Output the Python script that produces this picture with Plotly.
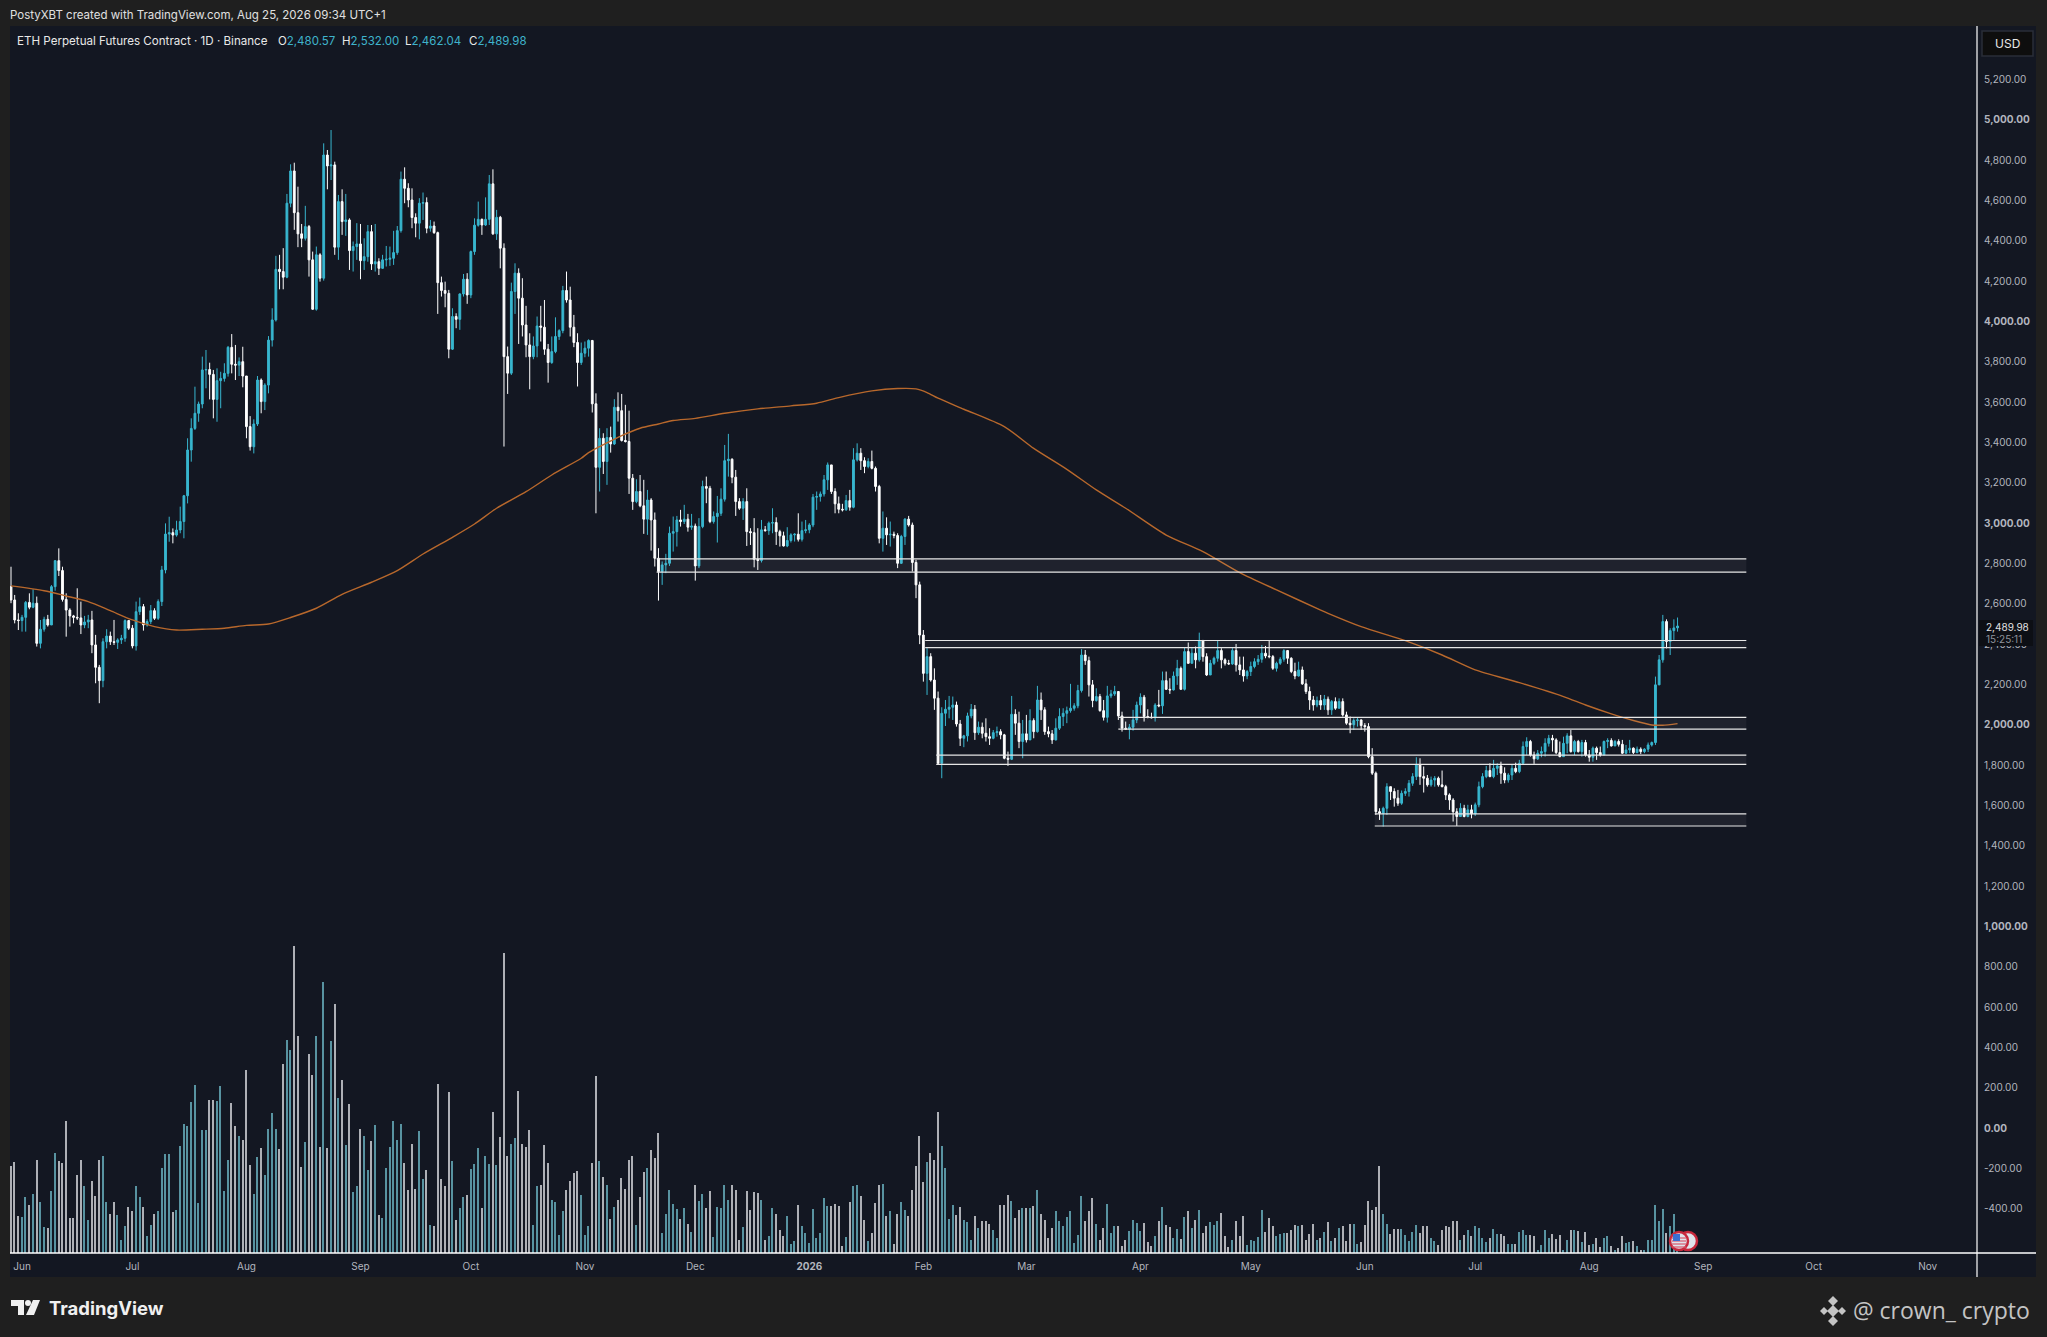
import pandas as pd
import plotly.graph_objects as go

first_open = 2685
start_day = "2025-05-29"

closes = [
    2619,2520,2517,2533,2607,2583,2603,2404,2474,2523,
    2495,2685,2814,2765,2622,2569,2540,2533,2530,2495,
    2510,2520,2396,2285,2219,2412,2440,2412,2409,2421,
    2429,2517,2479,2391,2561,2586,2495,2512,2566,2528,
    2611,2768,2946,2953,2941,2966,3008,3136,3363,3470,
    3545,3591,3760,3762,3738,3614,3707,3718,3743,3872,
    3788,3784,3801,3730,3479,3379,3492,3710,3603,3685,
    3908,4008,4259,4248,4220,4587,4747,4540,4435,4413,
    4471,4306,4061,4331,4215,4826,4772,4777,4369,4595,
    4496,4504,4352,4372,4385,4302,4322,4446,4286,4297,
    4264,4306,4309,4314,4342,4451,4706,4661,4603,4516,
    4488,4587,4590,4463,4474,4441,4193,4154,4140,3863,
    4025,4011,4137,4210,4132,4347,4478,4507,4479,4507,
    4683,4435,4517,4364,3826,3744,4149,4240,4116,3983,
    3884,3826,3879,3978,3972,3863,3797,3851,3926,3955,
    4154,4107,3972,3896,3797,3843,3868,3906,3592,3277,
    3421,3306,3425,3393,3575,3558,3410,3405,3223,3107,
    3157,3086,3020,3115,3016,2826,2760,2793,2801,2950,
    2958,3016,3008,3020,2980,2986,2788,2983,3182,3173,
    3008,3033,3049,3119,3310,3317,3228,3107,3074,3107,
    2958,2953,2821,2815,2967,2963,3000,3003,2958,2937,
    2887,2914,2942,2945,2920,2963,2967,2991,3129,3132,
    3145,3215,3289,3157,3096,3069,3066,3112,3079,3314,
    3347,3310,3281,3306,3272,3182,2925,2975,2942,2945,
    2939,2801,2934,3020,2991,2805,2694,2445,2255,2338,
    2222,2132,1809,2057,2077,2087,2098,2004,1933,1945,
    2044,2077,1961,1988,1958,1941,1933,1961,1966,1950,
    1834,1829,2052,2008,1917,1955,1925,2021,1966,2123,
    2074,1966,1955,1925,1983,2041,2057,2070,2082,2094,
    2170,2346,2318,2198,2120,2140,2070,2037,2143,2153,
    2165,2044,1983,1978,1988,2024,2098,2137,2041,2037,
    2035,2098,2094,2219,2176,2173,2242,2280,2176,2363,
    2305,2355,2322,2418,2338,2247,2305,2330,2368,2322,
    2305,2302,2368,2297,2272,2242,2264,2289,2313,2325,
    2355,2341,2338,2280,2305,2325,2368,2330,2264,2242,
    2272,2203,2165,2123,2098,2120,2098,2127,2074,2115,
    2082,2115,2049,2008,2000,2021,2024,1996,1991,1842,
    1760,1569,1561,1586,1693,1669,1636,1611,1660,1669,
    1710,1743,1801,1743,1735,1702,1726,1735,1702,1693,
    1652,1627,1569,1545,1586,1545,1578,1558,1603,1693,
    1743,1773,1743,1784,1796,1760,1726,1751,1784,1768,
    1809,1892,1917,1850,1831,1859,1867,1908,1933,1925,
    1862,1842,1908,1945,1867,1917,1867,1912,1850,1839,
    1884,1862,1850,1917,1922,1895,1917,1903,1859,1875,
    1884,1862,1879,1867,1879,1900,1912,2198,2322,2512,
    2413,2467,2480.57,2489.98,
]

highs = [
    2784,2644,2553,2545,2614,2652,2672,2636,2520,2536,
    2545,2693,2817,2875,2784,2652,2578,2545,2677,2611,
    2540,2545,2565,2446,2297,2429,2474,2462,2520,2429,
    2446,2523,2520,2495,2611,2631,2599,2523,2594,2578,
    2622,2788,2999,3032,2974,3012,3082,3140,3421,3520,
    3677,3603,3826,3859,3796,3760,3768,3751,3793,3879,
    3938,3884,3822,3875,3718,3531,3515,3730,3718,3694,
    3928,4066,4326,4331,4364,4633,4780,4788,4669,4484,
    4574,4479,4347,4372,4339,4884,4851,4950,4793,4628,
    4656,4633,4512,4397,4488,4484,4413,4479,4479,4484,
    4314,4331,4375,4372,4450,4474,4744,4765,4686,4661,
    4537,4612,4640,4616,4504,4496,4446,4223,4198,4157,
    4066,4041,4140,4236,4240,4352,4512,4595,4511,4616,
    4727,4755,4554,4524,4388,3876,4193,4289,4264,4215,
    4078,3942,3926,4025,4078,4107,3889,3926,4021,3962,
    4177,4248,4173,4033,3942,3896,3901,3912,3909,3644,
    3471,3446,3471,3479,3615,3649,3641,3587,3558,3244,
    3218,3239,3215,3165,3124,3053,2876,2810,2848,2983,
    3033,3036,3066,3091,3046,3046,2998,3025,3211,3231,
    3185,3058,3135,3173,3388,3443,3322,3264,3124,3124,
    3173,2975,3025,2975,3016,2986,3008,3074,3029,2967,
    2958,2980,2950,2950,3049,3008,3016,3000,3145,3157,
    3157,3239,3301,3289,3173,3132,3096,3140,3165,3372,
    3396,3372,3327,3322,3360,3281,3190,3058,3029,3008,
    2958,2950,2942,3025,3036,3003,2818,2710,2470,2380,
    2355,2280,2165,2087,2123,2143,2140,2115,2024,1950,
    2060,2103,2098,2016,2011,2032,1983,1974,1991,1978,
    1955,1867,2143,2077,2065,2024,2049,2077,2032,2193,
    2160,2087,1991,1974,2032,2082,2082,2090,2203,2107,
    2198,2375,2371,2338,2222,2181,2153,2123,2193,2173,
    2193,2165,2065,2016,2004,2074,2115,2156,2148,2077,
    2060,2107,2173,2264,2264,2231,2264,2322,2289,2384,
    2408,2380,2388,2457,2421,2355,2322,2338,2418,2380,
    2330,2322,2380,2401,2338,2338,2272,2313,2330,2346,
    2396,2391,2418,2346,2313,2335,2375,2371,2335,2308,
    2313,2289,2226,2189,2143,2140,2148,2148,2140,2123,
    2136,2131,2131,2065,2041,2032,2037,2027,2008,2008,
    1884,1768,1586,1594,1710,1693,1685,1677,1674,1685,
    1726,1760,1839,1834,1793,1751,1743,1746,1743,1773,
    1702,1660,1636,1586,1611,1603,1603,1603,1614,1718,
    1760,1796,1809,1826,1809,1817,1789,1760,1801,1812,
    1826,1917,1938,1925,1867,1875,1892,1933,1950,1950,
    1933,1917,1941,1958,1974,1925,1925,1925,1925,1875,
    1892,1892,1892,1922,1933,1933,1925,1928,1925,1900,
    1925,1888,1892,1888,1884,1912,1917,2239,2346,2545,
    2523,2479,2523,2532,
]

lows = [
    2603,2503,2470,2462,2462,2573,2578,2388,2379,2462,
    2487,2495,2665,2738,2611,2437,2487,2503,2520,2450,
    2479,2479,2355,2206,2107,2186,2379,2396,2396,2376,
    2401,2412,2470,2379,2368,2545,2467,2487,2500,2520,
    2520,2589,2751,2908,2900,2933,2950,2925,3098,3305,
    3462,3503,3570,3669,3614,3520,3503,3570,3702,3727,
    3743,3710,3730,3674,3421,3360,3346,3482,3545,3561,
    3644,3876,4000,4160,4160,4215,4567,4455,4369,4369,
    4402,4223,4058,4054,4198,4203,4656,4702,4331,4306,
    4430,4425,4256,4248,4306,4210,4256,4297,4256,4248,
    4231,4261,4273,4276,4281,4331,4441,4587,4567,4463,
    4418,4408,4504,4438,4446,4435,4038,4124,4071,3818,
    3859,3967,3959,4124,4088,4116,4331,4471,4430,4474,
    4479,4430,4405,4264,3380,3641,3735,4038,3889,3926,
    3823,3664,3813,3823,3901,3835,3697,3790,3843,3909,
    3942,4094,3926,3873,3678,3785,3823,3826,3549,3049,
    3157,3244,3190,3350,3388,3504,3405,3400,3145,3066,
    3099,3079,2947,2942,2864,2785,2616,2694,2752,2788,
    2859,2884,2983,2996,2958,2967,2715,2777,2975,3099,
    3000,2998,2904,3036,3107,3231,3198,3036,3066,3016,
    2887,2892,2781,2768,2805,2958,2942,2950,2892,2884,
    2884,2881,2904,2909,2909,2909,2950,2950,2980,3066,
    3107,3132,3165,3145,3049,3049,3058,3062,3062,3074,
    3306,3264,3248,3272,3267,3157,2900,2859,2892,2884,
    2925,2777,2798,2892,2983,2760,2628,2400,2214,2148,
    2214,2074,1801,1735,1994,2032,2024,1991,1895,1889,
    1917,2032,1925,1950,1933,1917,1900,1928,1941,1928,
    1829,1796,1825,1950,1884,1834,1912,1928,1933,1961,
    2024,1950,1938,1905,1922,1974,1994,2008,2060,2070,
    2082,2160,2297,2140,2087,2115,2065,2021,2011,2132,
    2143,2024,1966,1974,1928,1971,2008,2057,2016,2032,
    2032,2016,2087,2054,2173,2153,2170,2198,2173,2170,
    2302,2305,2280,2313,2313,2242,2247,2297,2313,2280,
    2294,2297,2297,2264,2247,2214,2226,2242,2280,2297,
    2308,2330,2330,2272,2264,2297,2313,2302,2256,2226,
    2239,2198,2153,2074,2070,2087,2074,2074,2049,2049,
    2074,2090,2041,2000,1958,1974,1991,1974,1966,1834,
    1751,1553,1528,1495,1553,1627,1594,1598,1603,1647,
    1644,1697,1726,1702,1664,1693,1693,1693,1693,1690,
    1627,1578,1520,1498,1545,1541,1541,1536,1548,1591,
    1685,1735,1740,1735,1751,1707,1710,1713,1726,1760,
    1760,1801,1850,1842,1806,1826,1839,1842,1892,1867,
    1855,1839,1842,1859,1862,1850,1862,1842,1842,1817,
    1817,1826,1842,1855,1884,1892,1900,1892,1855,1855,
    1859,1855,1859,1855,1859,1865,1892,1900,2209,2308,
    2379,2346,2421,2462.04,
]

# relative volume
volumes = [
    87,91,37,36,56,48,59,93,51,26,
    25,62,100,92,90,132,35,35,78,93,
    67,33,72,57,93,97,51,39,51,38,
    13,27,46,42,67,56,46,17,28,39,
    42,85,99,99,41,43,107,129,127,151,
    168,50,123,123,153,153,152,167,62,93,
    150,127,117,113,183,88,59,96,105,78,
    124,140,124,104,189,213,203,307,217,86,
    111,199,178,217,106,271,105,212,249,155,
    173,108,149,61,67,124,117,83,112,128,
    38,35,85,106,132,113,129,90,63,109,
    64,122,74,83,28,27,169,74,67,161,
    92,33,45,56,58,84,89,105,45,97,
    89,141,88,116,300,97,109,115,162,109,
    106,123,28,67,68,108,90,53,51,18,
    42,63,72,80,82,58,18,27,90,177,
    92,76,68,34,46,53,75,64,93,97,
    28,56,81,85,103,95,120,20,39,63,
    49,44,34,45,29,21,68,52,59,45,
    62,16,46,45,68,53,68,63,13,26,
    62,43,61,60,53,13,17,45,39,23,
    17,37,9,12,48,27,20,10,44,15,
    20,55,47,47,49,47,7,16,51,67,
    68,57,33,12,20,50,68,69,37,42,
    9,39,51,43,37,63,87,117,71,91,
    100,93,141,107,85,34,48,38,46,33,
    31,13,37,25,32,32,29,23,15,48,
    48,58,52,35,43,45,45,45,47,63,
    39,33,15,25,42,32,27,36,42,10,
    18,57,32,42,55,29,13,25,49,20,
    27,27,7,13,22,33,30,22,30,11,
    7,17,32,46,28,26,15,24,14,36,
    42,25,33,43,20,27,31,28,32,40,
    17,6,13,32,17,37,8,13,12,16,
    43,21,35,27,17,19,20,20,23,28,
    27,28,13,19,29,13,15,21,31,12,
    15,25,27,12,29,29,9,11,28,52,
    43,46,87,39,29,19,24,24,24,18,
    12,21,28,20,27,27,15,12,8,23,
    27,26,32,32,13,18,23,17,27,25,
    15,11,15,24,19,19,17,9,9,9,
    21,23,18,18,17,3,8,23,15,19,
    14,18,3,13,23,23,22,11,21,8,
    9,15,6,15,17,7,3,5,17,10,
    11,12,7,3,3,13,13,48,32,44,
    20,27,39,20,
]

# moving average, read at these day numbers
ma_days = [0,9,15,21,27,33,39,45,52,58,64,70,76,83,90,98,105,112,120,126,132,140,147,155,
           157,166,171,176,180,186,194,203,212,219,225,234,241,246,249,252,259,270,278,287,
           295,303,314,324,334,344,356,358,367,379,389,398,410,422,428,435,441,446,449,453]
ma_values = [2689,2665,2639,2611,2566,2520,2487,2470,2474,2479,2493,2500,2532,2578,2647,2707,2765,2847,2930,2996,3074,3156,3239,3322,
             3350,3434,3471,3492,3509,3520,3545,3567,3582,3595,3623,3656,3668,3666,3648,3620,3565,3479,3371,3267,
             3165,3074,2941,2859,2755,2669,2569,2553,2487,2417,2346,2272,2209,2140,2098,2054,2021,1999,1998,2006]

zone_tops = [2823,2418,2037,1849,1558]
zone_bottoms = [2757,2383,1978,1804,1498]
zone_start_days = [175.5,248.5,301,251.5,370.7]
zone_end_day = 471.7

y_ticks = [5200,5000,4800,4600,4400,4200,4000,3800,3600,3400,3200,3000,2800,2600,2400,2200,2000,
           1800,1600,1400,1200,1000,800,600,400,200,0,-200,-400]
x_ticks = ["2025-06-01","2025-07-01","2025-08-01","2025-09-01","2025-10-01","2025-11-01","2025-12-01",
           "2026-01-01","2026-02-01","2026-03-01","2026-04-01","2026-05-01","2026-06-01","2026-07-01",
           "2026-08-01","2026-09-01","2026-10-01","2026-11-01"]
x_labels = ["Jun","Jul","Aug","Sep","Oct","Nov","Dec","<b>2026</b>","Feb","Mar","Apr","May","Jun","Jul",
            "Aug","Sep","Oct","Nov"]

assert len(closes) == len(highs) == len(lows) == len(volumes) == 454

opens = [first_open] + closes[:-1]
dates = pd.date_range(start_day, periods=len(closes), freq="D")
day0 = pd.Timestamp(start_day)

def day_to_date(d):
    return day0 + pd.Timedelta(days=d)

UP = "#38b6cf"
DOWN = "#ffffff"
BG = "#131722"
FRAME = "#1f1f1f"
TEXT = "#b2b5be"

# page size and where the plot sits on it
W, H = 2047, 1337
L, R, T, B = 10, 1977, 26, 1253

def px(x):
    return (x - L) / (R - L)

def py(y):
    return (B - y) / (B - T)

def poly(points):
    return "M" + " L".join(f"{px(a):.5f},{py(b):.5f}" for a, b in points) + " Z"

fig = go.Figure()

vol_colors = ["#5893a1" if c >= o else "#aeb0b6" for o, c in zip(opens, closes)]
fig.add_trace(go.Bar(x=dates, y=volumes, yaxis="y2", marker=dict(color=vol_colors, line_width=0),
                     width=0.4 * 86400000, showlegend=False))

fig.add_trace(go.Candlestick(x=dates, open=opens, high=highs, low=lows, close=closes,
                             increasing=dict(line=dict(color=UP, width=1), fillcolor=UP),
                             decreasing=dict(line=dict(color=DOWN, width=1), fillcolor=DOWN),
                             whiskerwidth=0, showlegend=False))

fig.add_trace(go.Scatter(x=[day_to_date(d) for d in ma_days], y=ma_values, mode="lines",
                         line=dict(color="#b8682c", width=1.4, shape="spline", smoothing=0.7),
                         showlegend=False))

shapes = []

# dark chart panel behind everything
shapes.append(dict(type="rect", xref="paper", yref="paper", layer="below", x0=px(L), x1=px(2036),
                   y0=py(1277), y1=py(T), fillcolor=BG, line_width=0))

for top, bottom, start in zip(zone_tops, zone_bottoms, zone_start_days):
    x0 = day_to_date(start)
    x1 = day_to_date(zone_end_day)
    shapes.append(dict(type="rect", x0=x0, x1=x1, y0=bottom, y1=top, xref="x", yref="y",
                       fillcolor="rgba(255,255,255,0.05)", line_width=0, layer="above"))
    for level in (top, bottom):
        shapes.append(dict(type="line", x0=x0, x1=x1, y0=level, y1=level, xref="x", yref="y",
                           line=dict(color="#e6e6e6", width=1.2), layer="above"))

# scale separators
shapes.append(dict(type="line", xref="paper", yref="paper", x0=px(R), x1=px(R), y0=py(1277), y1=py(T),
                   line=dict(color="#ffffff", width=1.2), layer="above"))
shapes.append(dict(type="line", xref="paper", yref="paper", x0=px(L), x1=px(2036), y0=py(B), y1=py(B),
                   line=dict(color="#ffffff", width=1.5), layer="above"))

# USD box
shapes.append(dict(type="rect", xref="paper", yref="paper", x0=px(1982), x1=px(2033), y0=py(56), y1=py(31),
                   fillcolor="#0e0e0e", line=dict(color="#2a2e39", width=1.5), layer="above"))
# last price box
shapes.append(dict(type="rect", xref="paper", yref="paper", x0=px(1979), x1=px(2033), y0=py(646), y1=py(620),
                   fillcolor="#0d0f15", line_width=0, layer="above"))

# TradingView logo
shapes.append(dict(type="path", xref="paper", yref="paper", fillcolor="#f0f0f0", line_width=0,
                   path=poly([(11, 1300), (24, 1300), (24, 1315), (18, 1315), (18, 1306), (11, 1306)])))
shapes.append(dict(type="circle", xref="paper", yref="paper", fillcolor="#f0f0f0", line_width=0,
                   x0=px(25), x1=px(31), y0=py(1306), y1=py(1300)))
shapes.append(dict(type="path", xref="paper", yref="paper", fillcolor="#f0f0f0", line_width=0,
                   path=poly([(33, 1300), (40, 1300), (34, 1315), (26, 1315)])))

# Binance mark
for cx, cy, r in [(1833, 1311, 6), (1833, 1301, 5), (1833, 1321, 5), (1824, 1311, 4), (1842, 1311, 4)]:
    shapes.append(dict(type="path", xref="paper", yref="paper", fillcolor="#c4c4c4", line_width=0,
                       path=poly([(cx, cy - r), (cx + r, cy), (cx, cy + r), (cx - r, cy)])))

# event flag
for cx in (1688, 1679):
    shapes.append(dict(type="circle", xref="paper", yref="paper", layer="above", fillcolor="#dfe3ea",
                       line=dict(color="#c8283c", width=2.5), x0=px(cx - 9), x1=px(cx + 9),
                       y0=py(1250), y1=py(1232)))
for yy in (1238, 1241, 1244, 1247):
    shapes.append(dict(type="line", xref="paper", yref="paper", layer="above", x0=px(1672), x1=px(1686),
                       y0=py(yy), y1=py(yy), line=dict(color="#d9566a", width=1.2)))
shapes.append(dict(type="rect", xref="paper", yref="paper", layer="above", fillcolor="#3b6fd1", line_width=0,
                   x0=px(1673), x1=px(1680), y0=py(1241), y1=py(1234)))

annotations = []

def label(text, x, y, size, color, anchor="left", family="Inter, Roboto, sans-serif"):
    annotations.append(dict(text=text, xref="paper", yref="paper", x=px(x), y=py(y), showarrow=False,
                            xanchor=anchor, yanchor="middle", align=anchor,
                            font=dict(size=size, color=color, family=family)))

label("PostyXBT created with TradingView.com, Aug 25, 2026 09:34 UTC+1", 8, 15, 11.5, "#e0e0e0")
num = '<span style="color:#3fb4cc">%s</span>'
label("ETH Perpetual Futures Contract · 1D · Binance", 15, 41, 11.6, "#e8e8e8")
label("O" + num % "2,480.57", 276, 41, 11.5, "#e8e8e8")
label("H" + num % "2,532.00", 340, 41, 11.5, "#e8e8e8")
label("L" + num % "2,462.04", 403, 41, 11.5, "#e8e8e8")
label("C" + num % "2,489.98", 467, 41, 11.5, "#e8e8e8")
label("USD", 2007, 43, 12, "#e8e8e8", anchor="center")
label("2,489.98", 1984, 627, 10, "#e0e0e0")
label("15:25:11", 1984, 639, 10, "#8f939c")
label("<b>TradingView</b>", 47, 1308, 18.5, "#f0f0f0")
label("@ crown_ crypto", 1851, 1310, 23, "#c4c4c4", family="Open Sans, sans-serif")

y_text = []
for v in y_ticks:
    s = f"{v:,.2f}"
    y_text.append(f"<b>{s}</b>" if v % 1000 == 0 else s)

fig.update_layout(
    width=W, height=H, autosize=False,
    margin=dict(l=L, r=W - R, t=T, b=H - B, pad=0),
    paper_bgcolor=FRAME, plot_bgcolor=BG,
    font=dict(family="Inter, Roboto, sans-serif", color=TEXT, size=10),
    showlegend=False, bargap=0,
    shapes=shapes, annotations=annotations,
    xaxis=dict(type="date", range=["2025-05-28 17:30", "2026-11-14 09:36"], rangeslider_visible=False,
               tickmode="array", tickvals=x_ticks, ticktext=x_labels, showgrid=False, zeroline=False,
               showline=False, ticks="outside", ticklen=4, tickcolor="rgba(0,0,0,0)",
               tickfont=dict(size=10, color=TEXT)),
    yaxis=dict(side="right", range=[-620, 5466], tickmode="array", tickvals=y_ticks, ticktext=y_text,
               showgrid=False, zeroline=False, showline=False, ticks="outside", ticklen=4,
               tickcolor="rgba(0,0,0,0)", tickfont=dict(size=10, color=TEXT)),
    yaxis2=dict(overlaying="y", range=[0, 1227], visible=False),
)

fig.write_html("out.html", config=dict(displayModeBar=False), post_script="document.body.style.margin='0';")
